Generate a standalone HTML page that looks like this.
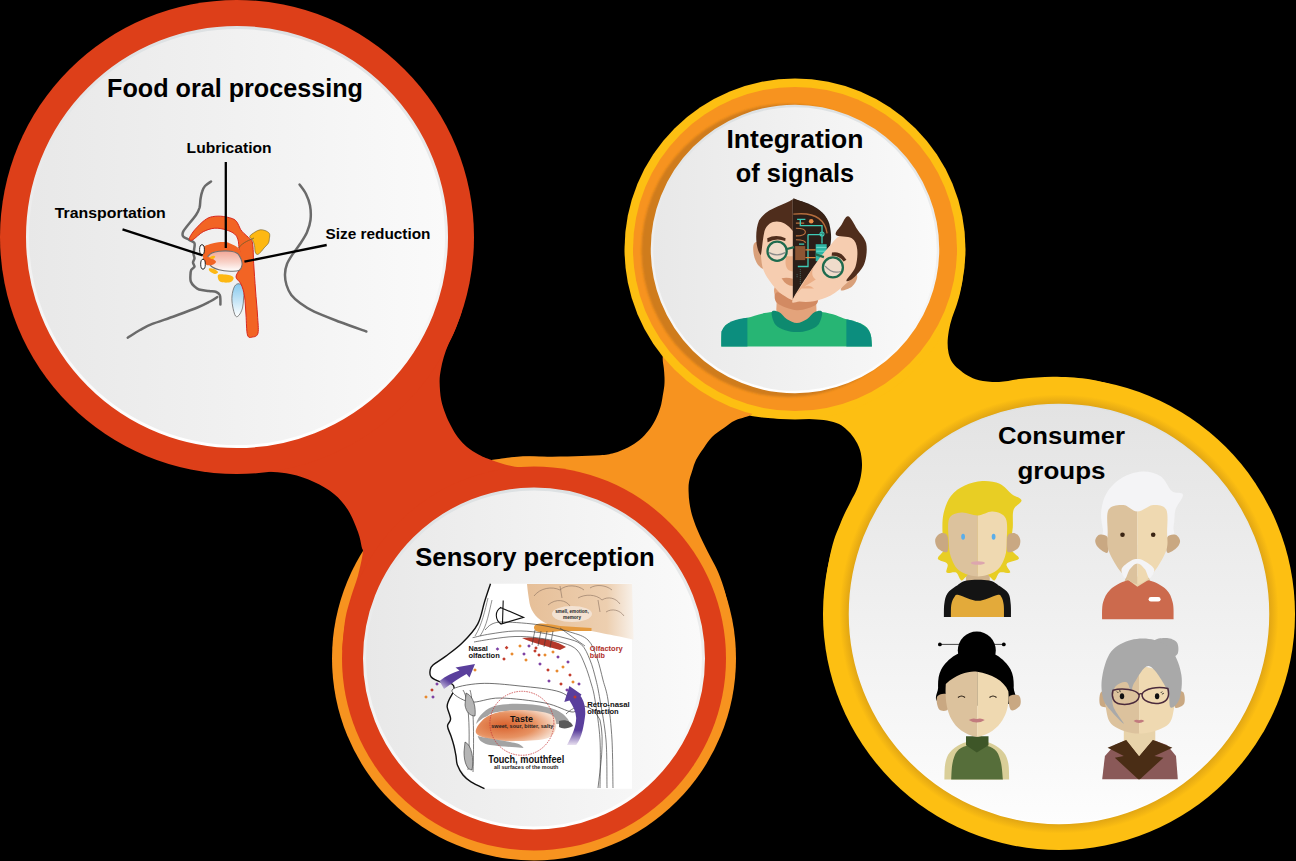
<!DOCTYPE html>
<html><head><meta charset="utf-8"><style>html,body{margin:0;padding:0;background:#000;width:1296px;height:861px;overflow:hidden}</style></head>
<body><svg width="1296" height="861" viewBox="0 0 1296 861" style="display:block">
<defs>
  <linearGradient id="disc" x1="0" y1="0" x2="1" y2="0">
    <stop offset="0" stop-color="#E8E8E8"/><stop offset="1" stop-color="#FAFAFA"/>
  </linearGradient>
  <linearGradient id="discv" x1="0" y1="0" x2="0" y2="1">
    <stop offset="0" stop-color="#E3E3E3"/><stop offset="1" stop-color="#FDFDFD"/>
  </linearGradient>
  <linearGradient id="rim" x1="0" y1="0" x2="0" y2="1">
    <stop offset="0" stop-color="#DDE1E3"/><stop offset="0.5" stop-color="#EFEFEF"/><stop offset="1" stop-color="#FFFFFF"/>
  </linearGradient>
  <radialGradient id="gold" cx="0.5" cy="0.5" r="0.5">
    <stop offset="0.885" stop-color="#DDA214"/><stop offset="0.93" stop-color="#FDBF12"/><stop offset="1" stop-color="#FDBF12"/>
  </radialGradient>
  <filter id="blur2" x="-10%" y="-10%" width="120%" height="120%"><feGaussianBlur stdDeviation="1.3"/></filter>
  <clipPath id="c2clip"><circle cx="795" cy="249" r="162"/></clipPath>
</defs>
<rect width="1296" height="861" fill="#000"/>
<circle cx="534" cy="658.5" r="202" fill="#F7931F"/>
<path d="M534,600 L491.5,460 C496.2,459.4 511.1,457.0 520.0,456.5 C528.9,456.0 535.8,456.9 545.0,456.8 C554.2,456.8 565.8,456.4 575.0,456.2 C584.2,455.9 593.5,455.8 600.0,455.3 C606.5,454.8 609.3,454.3 614.0,453.0 C618.7,451.7 623.8,449.7 628.0,447.5 C632.2,445.3 636.0,442.9 639.5,440.0 C643.0,437.1 646.3,433.4 649.0,430.0 C651.7,426.6 653.8,423.1 655.7,419.3 C657.6,415.5 659.3,410.9 660.5,407.0 C661.7,403.1 662.1,399.5 662.7,396.0 C663.3,392.5 664.0,389.1 664.3,386.0 C664.6,382.9 664.6,380.5 664.5,377.5 C664.4,374.5 664.1,371.1 663.8,368.0 C663.5,364.9 662.7,362.0 662.7,359.0 C662.7,356.0 663.8,351.5 664.0,350.0 L760,260 L755,412 C754.1,412.6 752.7,414.4 749.4,415.8 C746.1,417.2 739.2,418.5 735.0,420.5 C730.8,422.5 727.7,425.2 723.9,428.0 C720.1,430.8 715.4,433.6 712.0,437.0 C708.6,440.4 706.1,444.7 703.4,448.5 C700.7,452.3 697.9,456.2 696.0,460.0 C694.1,463.8 693.2,467.8 692.0,471.5 C690.8,475.2 689.6,478.6 689.0,482.0 C688.4,485.4 688.5,488.5 688.6,492.0 C688.7,495.5 688.9,499.2 689.5,503.0 C690.1,506.8 690.8,510.7 692.0,515.0 C693.2,519.3 695.1,524.3 697.0,529.0 C698.9,533.7 701.1,538.2 703.4,543.0 C705.7,547.8 708.4,552.9 711.0,558.0 C713.6,563.1 716.5,568.0 718.8,573.7 C721.1,579.4 722.9,584.3 725.0,592.0 C727.1,599.7 730.4,615.3 731.5,620.0 Z" fill="#F7931F"/>
<path d="M850,300 L964.5,240 C964.5,243.7 964.7,254.3 964.2,262.0 C963.7,269.7 962.7,279.0 961.5,286.0 C960.3,293.0 958.6,298.7 957.0,304.0 C955.4,309.3 953.4,313.5 952.0,318.0 C950.6,322.5 949.5,326.8 948.8,331.0 C948.1,335.2 947.6,339.3 947.6,343.0 C947.6,346.7 947.9,350.1 948.6,353.3 C949.3,356.5 950.4,359.4 952.0,362.0 C953.6,364.6 955.6,366.5 958.3,368.8 C961.0,371.1 964.5,373.9 968.0,375.8 C971.5,377.7 973.8,379.2 979.0,380.2 C984.2,381.2 991.8,382.2 999.0,382.0 C1006.2,381.8 1013.0,379.7 1022.0,378.8 C1031.0,377.9 1042.3,376.8 1053.0,376.8 C1063.7,376.8 1076.5,377.6 1086.0,378.8 C1095.5,380.0 1106.0,383.1 1110.0,384.0 L1059,500 L823.5,620 C823.7,616.3 824.1,604.8 824.5,598.0 C824.9,591.2 825.2,585.7 826.0,579.0 C826.8,572.3 828.2,564.5 829.5,558.0 C830.8,551.5 832.4,545.2 834.0,540.0 C835.6,534.8 837.3,531.2 839.0,527.0 C840.7,522.8 842.0,519.3 844.0,515.0 C846.0,510.7 848.8,505.3 851.0,501.0 C853.2,496.7 855.4,493.0 857.0,489.0 C858.6,485.0 859.9,481.2 860.7,477.0 C861.5,472.8 862.1,468.5 862.0,464.0 C861.9,459.5 861.3,454.3 860.0,450.0 C858.7,445.7 856.2,441.3 854.0,438.0 C851.8,434.7 849.5,432.3 847.0,430.0 C844.5,427.7 842.3,425.6 839.0,424.0 C835.7,422.4 831.3,421.3 827.0,420.5 C822.7,419.7 818.3,419.5 813.0,419.2 C807.7,418.9 801.3,418.9 795.0,418.8 C788.7,418.7 780.5,418.6 775.0,418.4 C769.5,418.2 766.3,417.9 762.0,417.5 C757.7,417.1 751.5,416.1 749.4,415.8 L800,380 Z" fill="#FDBF12"/>
<path d="M300,300 L462,311 C460.9,314.2 457.4,324.5 455.1,330.0 C452.9,335.5 450.4,339.5 448.5,344.0 C446.6,348.5 445.1,352.7 443.8,357.0 C442.5,361.3 441.5,365.8 440.8,370.0 C440.1,374.2 439.5,377.0 439.6,382.0 C439.7,387.0 440.2,394.7 441.2,400.0 C442.2,405.3 443.9,409.7 445.5,414.0 C447.1,418.3 448.9,422.1 451.0,426.0 C453.1,429.9 455.3,434.0 458.0,437.5 C460.7,441.0 463.6,444.2 467.0,447.0 C470.4,449.8 474.4,452.3 478.5,454.5 C482.6,456.7 485.4,457.9 491.5,460.0 C497.6,462.1 506.9,465.6 515.0,466.8 C523.1,468.0 535.8,467.0 540.0,467.0 L534,600 L342.2,650 C342.7,644.8 343.8,627.8 345.3,619.0 C346.8,610.2 348.9,604.2 351.0,597.0 C353.1,589.8 355.9,583.3 357.9,576.0 C359.9,568.7 362.2,557.8 362.8,553.0 C363.4,548.2 362.5,550.5 361.7,547.0 C360.9,543.5 360.3,538.2 358.0,532.0 C355.7,525.8 352.0,516.3 348.0,510.0 C344.0,503.7 339.7,498.7 334.0,494.0 C328.3,489.3 321.3,485.3 314.0,482.0 C306.7,478.7 299.8,475.8 290.0,474.0 C280.2,472.2 266.7,471.2 255.0,471.0 C243.3,470.8 225.8,472.4 220.0,472.7 L237,300 Z" fill="#DD3F19"/>
<!-- circle 1 -->
<circle cx="237" cy="237" r="237" fill="#DD3F19"/>
<circle cx="237" cy="237" r="209.5" fill="url(#disc)" stroke="url(#rim)" stroke-width="3"/>
<!-- circle 2 -->
<circle cx="795" cy="249" r="170.5" fill="#FDBF12"/>
<circle cx="795" cy="249" r="162" fill="#F7931F"/>
<g clip-path="url(#c2clip)"><circle cx="788" cy="250.5" r="146.5" fill="#CF7C1C" filter="url(#blur2)"/></g>
<circle cx="795" cy="249" r="143" fill="url(#disc)" stroke="url(#rim)" stroke-width="2.5"/>
<!-- circle 3 -->
<circle cx="534" cy="658.5" r="192" fill="#DD3F19"/>
<circle cx="534" cy="658.5" r="169.5" fill="url(#disc)" stroke="url(#rim)" stroke-width="3"/>
<!-- circle 4 -->
<circle cx="1059" cy="614" r="236" fill="url(#gold)"/>
<circle cx="1059" cy="614" r="209.5" fill="url(#discv)" stroke="url(#rim)" stroke-width="1.5"/>
<g font-family='"Liberation Sans", sans-serif'>
<text x="235" y="96.8" font-size="25.3" font-weight="bold" fill="#000" text-anchor="middle" textLength="256" lengthAdjust="spacingAndGlyphs" >Food oral processing</text>
<text x="795" y="148" font-size="25.5" font-weight="bold" fill="#000" text-anchor="middle" textLength="137" lengthAdjust="spacingAndGlyphs" >Integration</text>
<text x="795" y="181.6" font-size="25.5" font-weight="bold" fill="#000" text-anchor="middle" textLength="118.5" lengthAdjust="spacingAndGlyphs" >of signals</text>
<text x="535" y="565.5" font-size="26.3" font-weight="bold" fill="#000" text-anchor="middle" textLength="239.5" lengthAdjust="spacingAndGlyphs" >Sensory perception</text>
<text x="1061.5" y="444" font-size="24.8" font-weight="bold" fill="#000" text-anchor="middle" textLength="127" lengthAdjust="spacingAndGlyphs" >Consumer</text>
<text x="1061.5" y="479.3" font-size="24.8" font-weight="bold" fill="#000" text-anchor="middle" textLength="88" lengthAdjust="spacingAndGlyphs" >groups</text>
</g>
<g>
<defs>
<linearGradient id="pinkg" x1="0" y1="0" x2="0" y2="1"><stop offset="0" stop-color="#F2A696"/><stop offset="0.55" stop-color="#F8D2C8"/><stop offset="1" stop-color="#FFFFFF"/></linearGradient>
<linearGradient id="blueg" x1="0" y1="0" x2="0" y2="1"><stop offset="0" stop-color="#86C9EE"/><stop offset="1" stop-color="#FFFFFF"/></linearGradient>
</defs>
<path d="M211.0,181.5 C210.0,182.2 206.5,184.3 205.0,186.0 C203.5,187.7 202.9,189.3 202.2,191.5 C201.4,193.7 200.9,196.3 200.5,199.0 C200.1,201.7 200.3,204.8 199.6,207.5 C198.8,210.2 198.1,211.9 196.0,215.0 C193.9,218.1 189.2,223.5 187.0,226.3 C184.8,229.1 183.6,230.3 183.0,232.0 C182.4,233.7 182.2,235.2 183.2,236.5 C184.2,237.8 187.3,238.7 189.2,239.8 C191.1,240.9 193.6,241.5 194.4,243.0 C195.2,244.5 194.3,247.2 194.2,249.0 C194.0,250.8 193.4,252.4 193.5,254.0 C193.6,255.6 194.6,257.0 194.5,258.4 C194.4,259.8 193.0,261.1 193.0,262.5 C193.0,263.9 194.8,265.4 194.5,266.6 C194.2,267.9 191.9,268.4 191.2,270.0 C190.5,271.6 190.5,274.1 190.4,276.0 C190.3,277.9 190.2,279.8 190.8,281.5 C191.4,283.2 192.6,284.7 194.0,286.0 C195.4,287.3 196.5,288.7 199.0,289.5 C201.5,290.3 206.1,290.6 209.0,291.0 C211.9,291.4 214.5,291.3 216.3,292.0 C218.1,292.7 219.1,293.7 219.8,295.0 C220.5,296.3 220.3,298.4 220.4,300.0 C220.5,301.6 220.4,303.7 220.4,304.4" fill="none" stroke="#6A6A6A" stroke-width="2.5" stroke-linecap="round"/>
<path d="M127.7,337.7 C129.8,336.4 136.0,332.2 140.0,330.0 C144.0,327.8 145.9,326.5 151.7,324.2 C157.5,321.9 167.4,318.8 175.0,316.0 C182.6,313.2 191.7,309.9 197.5,307.5 C203.3,305.1 206.7,303.2 210.0,301.5 C213.3,299.8 216.1,297.8 217.3,297.0" fill="none" stroke="#6A6A6A" stroke-width="2.5" stroke-linecap="round"/>
<path d="M299.6,184.6 C300.7,186.2 304.3,190.5 306.0,194.0 C307.7,197.5 309.2,201.1 310.0,205.4 C310.8,209.7 311.0,215.5 310.5,220.0 C310.0,224.5 308.6,228.5 306.9,232.5 C305.1,236.5 302.3,240.5 300.0,244.0 C297.7,247.5 295.5,250.0 293.3,253.3 C291.1,256.6 288.4,260.5 287.0,264.0 C285.6,267.5 285.1,270.7 285.0,274.2 C284.9,277.7 285.4,281.5 286.5,285.0 C287.6,288.5 289.1,292.0 291.3,295.0 C293.6,298.0 296.2,300.2 300.0,303.0 C303.8,305.8 307.5,308.5 314.2,311.7 C320.9,314.9 331.3,318.7 340.0,322.0 C348.7,325.3 361.9,329.9 366.3,331.5" fill="none" stroke="#6A6A6A" stroke-width="2.5" stroke-linecap="round"/>
<path d="M234.6,286.3 C235.8,284.3 237.6,283.4 239.2,283.8 C240.8,284.2 243.2,286.2 243.9,288.6 C244.6,291.0 243.8,294.8 243.6,298.0 C243.4,301.2 243.3,305.1 242.5,308.0 C241.7,310.9 240.2,313.9 239.0,315.2 C237.8,316.5 236.6,317.5 235.5,316.0 C234.4,314.5 233.2,309.3 232.6,306.0 C232.0,302.7 231.7,299.3 232.0,296.0 C232.3,292.7 233.4,288.3 234.6,286.3Z" fill="url(#blueg)" stroke="#6A6A6A" stroke-width="0.8"/>
<path d="M189.3,238.7 C189.3,237.4 191.7,233.9 193.0,232.0 C194.3,230.1 195.7,228.8 197.4,227.0 C199.1,225.2 200.9,223.1 203.0,221.5 C205.1,219.9 207.2,218.1 210.2,217.2 C213.1,216.3 217.0,216.0 220.7,216.2 C224.4,216.4 229.6,217.6 232.3,218.6 C235.1,219.6 235.8,220.6 237.2,222.4 C238.5,224.2 239.3,227.3 240.4,229.2 C241.5,231.0 242.7,232.1 244.0,233.5 C245.3,234.9 247.1,235.9 248.5,237.5 C249.9,239.1 251.6,238.6 252.5,243.0 C253.4,247.4 253.2,255.9 253.7,263.8 C254.2,271.6 254.9,281.5 255.5,290.0 C256.1,298.5 257.1,307.8 257.5,315.0 C257.9,322.2 258.8,329.3 258.0,333.0 C257.2,336.7 254.4,336.7 252.7,337.0 C250.9,337.3 248.6,338.7 247.5,335.0 C246.4,331.3 246.5,321.5 246.0,315.0 C245.5,308.5 245.3,301.2 244.5,296.0 C243.7,290.8 242.4,287.2 241.0,284.0 C239.6,280.8 236.2,279.7 236.0,277.0 C235.8,274.3 239.2,271.2 240.0,268.0 C240.8,264.8 241.1,261.2 241.0,258.0 C240.9,254.8 239.7,252.0 239.2,249.0 C238.7,246.0 238.8,242.3 238.0,239.8 C237.2,237.3 236.5,235.6 234.6,234.0 C232.7,232.4 229.8,231.0 226.5,230.0 C223.2,229.0 218.7,227.9 214.8,228.2 C210.9,228.5 206.9,229.8 203.2,231.7 C199.5,233.6 195.1,238.6 192.8,239.8 C190.5,241.0 189.3,240.0 189.3,238.7Z" fill="#F26424" stroke="#D8281E" stroke-width="1"/>
<path d="M201.5,250.0 C201.0,247.5 201.8,247.8 203.2,246.8 C204.6,245.8 207.7,244.7 210.2,243.9 C212.7,243.1 215.6,242.5 218.3,242.2 C221.0,241.9 224.2,241.8 226.5,242.2 C228.8,242.6 230.2,243.4 232.3,244.5 C234.4,245.6 237.6,246.8 239.2,249.0 C240.8,251.2 242.2,255.2 242.0,258.0 C241.8,260.8 241.7,264.7 238.0,266.0 C234.3,267.3 225.3,266.7 220.0,266.0 C214.7,265.3 209.1,264.7 206.0,262.0 C202.9,259.3 202.0,252.5 201.5,250.0Z" fill="#F26424"/>
<path d="M207.5,257.5 C207.8,255.4 210.1,254.1 212.0,253.0 C213.9,251.9 215.8,251.5 219.0,251.2 C222.2,250.9 227.9,250.8 231.0,251.2 C234.1,251.6 235.8,252.2 237.5,253.5 C239.2,254.8 240.2,257.1 241.0,259.0 C241.8,260.9 242.3,263.1 242.0,265.0 C241.7,266.9 241.0,269.5 239.0,270.5 C237.0,271.5 233.3,271.3 230.0,271.2 C226.7,271.1 222.2,270.6 219.0,269.7 C215.8,268.8 212.4,267.5 210.5,265.5 C208.6,263.5 207.2,259.6 207.5,257.5Z" fill="url(#pinkg)" stroke="#707070" stroke-width="1.1"/>
<path d="M203.0,258.0 C203.3,256.8 206.3,256.8 208.0,257.0 C209.7,257.2 211.7,258.2 213.0,259.0 C214.3,259.8 216.2,261.0 216.0,262.0 C215.8,263.0 213.7,264.6 212.0,265.0 C210.3,265.4 207.5,265.7 206.0,264.5 C204.5,263.3 202.7,259.2 203.0,258.0Z" fill="#F26424"/>
<path d="M249.7,236.4 C250.1,235.1 253.3,233.1 255.0,232.0 C256.7,230.9 258.4,230.1 260.1,229.8 C261.8,229.6 263.4,229.9 265.0,230.5 C266.6,231.1 268.7,232.2 269.4,233.5 C270.1,234.8 269.6,236.9 269.4,238.5 C269.2,240.1 269.2,241.7 268.3,243.3 C267.4,244.9 265.2,246.6 264.0,248.0 C262.8,249.4 262.4,250.4 261.3,251.5 C260.2,252.6 258.5,254.4 257.5,254.5 C256.5,254.6 255.7,253.5 255.2,252.0 C254.7,250.5 254.9,247.6 254.5,245.6 C254.1,243.6 253.3,241.5 252.5,240.0 C251.7,238.5 249.3,237.7 249.7,236.4Z" fill="#FDB813" stroke="#6B5A2A" stroke-width="0.6"/>
<path d="M238.5,248 C243,242 250,240 254,238" fill="none" stroke="#6B5A2A" stroke-width="0.8"/>
<path d="M218.3,274.7 C219.3,273.9 222.1,274.3 224.0,274.4 C225.9,274.5 228.4,274.7 230.0,275.3 C231.6,275.9 233.3,276.8 233.6,277.8 C233.9,278.8 233.0,280.4 232.0,281.2 C231.0,282.0 229.3,282.5 227.5,282.6 C225.7,282.7 222.6,282.6 221.0,282.0 C219.4,281.4 218.6,280.2 218.2,279.0 C217.8,277.8 217.3,275.5 218.3,274.7Z" fill="#FDB813"/>
<path d="M209.0,268.4 C209.7,268.0 212.5,268.4 214.0,269.0 C215.5,269.6 217.8,271.2 218.0,272.0 C218.2,272.8 216.3,274.1 215.0,274.0 C213.7,273.9 211.0,272.4 210.0,271.5 C209.0,270.6 208.3,268.8 209.0,268.4Z" fill="#FDB813"/>
<path d="M209.5,257.5 C209.6,256.9 212.0,255.8 213.0,255.7 C214.0,255.6 215.4,256.2 215.3,256.8 C215.2,257.4 213.5,259.1 212.5,259.2 C211.5,259.3 209.4,258.1 209.5,257.5Z" fill="#FDB813"/>
<ellipse cx="202" cy="249.7" rx="2.4" ry="5" fill="#fff" stroke="#111" stroke-width="0.9"/>
<ellipse cx="203" cy="264.2" rx="2.3" ry="5" fill="#fff" stroke="#111" stroke-width="0.9"/>
<line x1="225.8" y1="162" x2="225.8" y2="248" stroke="#000" stroke-width="2.3"/>
<line x1="122.5" y1="229.4" x2="202.7" y2="255.4" stroke="#000" stroke-width="2.3"/>
<line x1="326.7" y1="245" x2="244.4" y2="261.7" stroke="#000" stroke-width="2.3"/>
<text x="229.1" y="153.2" font-family='"Liberation Sans", sans-serif' font-size="15.5" font-weight="bold" fill="#000" text-anchor="middle" textLength="85" lengthAdjust="spacingAndGlyphs" >Lubrication</text>
<text x="110.3" y="217.5" font-family='"Liberation Sans", sans-serif' font-size="15.5" font-weight="bold" fill="#000" text-anchor="middle" textLength="111" lengthAdjust="spacingAndGlyphs" >Transportation</text>
<text x="378" y="238.5" font-family='"Liberation Sans", sans-serif' font-size="15.5" font-weight="bold" fill="#000" text-anchor="middle" textLength="105" lengthAdjust="spacingAndGlyphs" >Size reduction</text>
</g><g>
<path d="M721.3,346.5 C721.4,344.4 721.1,337.2 721.8,333.6 C722.6,330.0 723.3,327.1 725.8,324.9 C728.3,322.8 733.0,321.6 736.6,320.4 C740.2,319.3 741.4,319.2 747.4,317.8 C753.4,316.3 760.3,313.0 772.6,312.0 C784.9,311.0 808.9,310.8 821.2,312.0 C833.5,313.2 840.1,317.4 846.4,319.2 C852.7,321.0 855.5,321.3 859.0,322.8 C862.4,324.2 865.1,325.7 867.1,327.8 C869.1,329.9 870.1,332.3 870.9,335.4 C871.7,338.5 871.8,344.7 871.9,346.5Z" fill="#27B574"/>
<path d="M721.3,346.5 L721.3,331.8 C725.8,321.0 736.6,319.2 747.4,317.8 L747.4,346.5Z" fill="#0C8E7E"/>
<path d="M846.4,319.2 C859.0,321.9 869.8,326.4 871.2,337.2 L871.9,346.5 L846.4,346.5Z" fill="#0C8E7E"/>
<path d="M777.1,285.0 C783.6,282.0 809.3,282.0 815.8,285.0 C822.3,288.0 816.2,298.2 816.2,303.0 C816.2,307.8 817.1,310.8 815.8,313.8 C814.5,316.8 811.7,319.1 808.6,321.0 C805.4,322.8 800.8,324.9 796.9,324.9 C793.0,324.9 788.5,322.8 785.2,321.0 C781.9,319.1 778.5,316.8 777.1,313.8 C775.7,310.8 776.6,307.8 776.6,303.0 C776.6,298.2 770.6,288.0 777.1,285.0Z" fill="#E3A37B"/>
<path d="M771.7,312.0 C772.3,309.9 776.3,310.8 778.9,312.0 C781.4,313.2 784.0,317.3 787.0,319.2 C790.0,321.0 793.6,323.1 796.9,323.1 C800.2,323.1 803.8,321.0 806.8,319.2 C809.8,317.3 812.3,313.2 814.9,312.0 C817.4,310.8 821.5,309.9 822.1,312.0 C822.7,314.1 820.7,321.5 818.5,324.6 C816.2,327.6 812.2,329.1 808.6,330.3 C805.0,331.6 800.8,332.1 796.9,332.1 C793.0,332.1 788.8,331.6 785.2,330.3 C781.6,329.1 777.5,327.6 775.3,324.6 C773.0,321.5 771.1,314.1 771.7,312.0Z" fill="#0E8A6F"/>
<path d="M760.9,243.6 C759.5,239.5 756.8,241.6 755.5,242.2 C754.2,242.8 753.3,244.6 753.2,247.2 C753.0,249.8 753.6,254.8 754.6,258.0 C755.6,261.1 757.6,264.6 759.1,266.1 C760.6,267.6 763.3,270.7 763.6,267.0 C763.9,263.2 762.2,247.7 760.9,243.6Z" fill="#D9A07A"/>
<path d="M762.2,227.4 C764.1,223.8 767.5,220.5 772.6,218.4 C777.7,216.3 789.4,201.3 792.8,214.8 C796.1,228.3 794.3,285.9 792.8,299.4 C791.2,312.9 786.8,298.2 783.4,295.8 C780.0,293.4 775.9,289.2 772.6,285.0 C769.3,280.8 765.5,275.7 763.6,270.6 C761.6,265.5 761.3,259.5 760.9,254.4 C760.4,249.3 760.7,244.5 760.9,240.0 C761.1,235.5 760.2,231.0 762.2,227.4Z" fill="#F6CDB0"/>
<path d="M777.1,292.2 C780.2,291.9 789.5,300.6 796.0,301.2 C802.4,301.8 812.5,295.2 815.8,295.8 C819.1,296.4 818.9,302.4 815.8,304.8 C812.6,307.2 803.3,310.5 796.9,310.2 C790.4,309.9 780.4,306.0 777.1,303.0 C773.8,300.0 773.9,292.5 777.1,292.2Z" fill="#D28A62"/>
<path d="M792.8,199.3 L792.8,231.0 C783.4,218.4 769.0,218.4 764.5,231.0 C762.2,241.8 762.2,249.0 760.9,255.3 C755.5,249.0 754.6,231.0 759.1,220.2 C767.2,207.6 783.4,205.8 792.8,199.3 Z" fill="#4F2D1C"/>
<path d="M767.2,238.2 Q776.2,233.7 785.6,238.2 L785.2,240.9 Q776.2,237.3 767.6,242.2Z" fill="#4F2D1C"/>
<path d="M786.1,256.2 Q783.4,270.6 792.8,271.5 L792.8,256.2Z" fill="#EBAE86"/>
<path d="M781.6,278.2 Q787.0,276.9 792.8,278.7 L792.8,285.9 Q786.1,285.9 781.6,278.2Z" fill="#D6936B"/>
<circle cx="777.1" cy="251.2" r="9.6" fill="#EFDCCB" stroke="#1E6B4E" stroke-width="2.3"/>
<path d="M769.0,252.6 Q777.1,257.1 785.2,252.6" fill="none" stroke="#8A8A8A" stroke-width="1.3"/>
<path d="M792.8,199.3 C808.6,202.2 824.8,209.4 829.3,223.8 C832.0,234.6 831.1,241.8 830.2,245.4 L792.8,299.4 Z" fill="#2B1E18"/>
<path d="M793.3,198.2 C804.2,202.7 823.3,207.8 827.8,221.8 L829.1,233.3 L825.9,233.3 C823.3,218.0 810.5,212.9 793.3,214.2 Z" fill="#3A2215"/>
<path d="M793.3,214.2 C810.5,212.2 824.6,216.7 827.1,233.3" fill="none" stroke="#B36C3C" stroke-width="1.3"/>
<circle cx="811.2" cy="221.2" r="2.3" fill="#E98A46"/>
<path d="M795.9,223.1 L804.2,223.1 M795.9,228.2 Q805.4,228.2 805.4,232.0 Q805.4,235.9 795.9,235.9 M795.9,239.7 Q805.4,239.7 805.4,242.9" fill="none" stroke="#C07440" stroke-width="1.1"/>
<path d="M797.1,219.3 L805.4,219.3 M800.3,219.3 L800.3,225.7 L822.0,225.7 L822.0,243.5 M808.0,234.6 L822.0,234.6 M808.0,234.6 L808.0,266.5 L797.8,266.5 M799.0,244.2 L804.2,244.2" fill="none" stroke="#3ECBB6" stroke-width="1.3"/>
<circle cx="822.0" cy="234.0" r="2" fill="none" stroke="#3ECBB6" stroke-width="1.1"/>
<rect x="795.2" y="246.1" width="10" height="14" fill="#8C5634"/>
<path d="M805.4,249.9 L815.7,249.9 M805.4,257.6 L815.7,257.6" stroke="#E0873F" stroke-width="1.2"/>
<rect x="815.7" y="244.2" width="11" height="17" fill="#2EB5A3"/>
<path d="M816.3,247.4 L826.5,247.4 M816.3,251.2 L826.5,251.2 M816.3,255.0 L826.5,255.0" stroke="#7FE6D6" stroke-width="0.8"/>
<path d="M800.3,269.1 L800.3,284.4 M797.1,274.2 L797.1,278.0" fill="none" stroke="#4E6A66" stroke-width="1" stroke-dasharray="1,1"/>
<path d="M848.2,272.4 C849.8,270.6 853.0,269.7 854.5,270.6 C856.0,271.5 857.6,275.1 857.2,277.8 C856.7,280.5 854.5,284.7 851.8,286.8 C849.1,288.9 842.2,291.3 841.0,290.4 C839.8,289.5 843.4,284.4 844.6,281.4 C845.8,278.4 846.5,274.2 848.2,272.4Z" fill="#D9A07A"/>
<path d="M792.8,299.4 C795.5,293.0 809.6,272.4 815.8,263.4 C822.0,254.4 826.0,250.0 830.2,245.4 C834.4,240.7 836.5,236.7 841.0,235.5 C845.5,234.3 854.2,235.0 857.2,238.2 C860.2,241.3 859.3,248.7 859.0,254.4 C858.7,260.1 857.8,267.3 855.4,272.4 C853.0,277.5 848.8,281.1 844.6,285.0 C840.4,288.9 835.3,293.1 830.2,295.8 C825.1,298.5 819.1,300.2 814.0,301.2 C808.9,302.2 803.1,301.9 799.6,301.6 C796.1,301.3 790.1,305.8 792.8,299.4Z" fill="#F6CDB0"/>
<path d="M792.8,299.4 L815.8,263.4 Q808.6,274.2 815.8,279.6 L801.4,288.6 Q812.2,288.6 814.0,288.6 Q805.0,279.6 792.8,299.4Z" fill="#EBAE86"/>
<path d="M836.0,235.0 C834.2,232.9 839.0,228.7 841.0,225.6 C843.0,222.5 845.5,215.6 848.2,216.2 C850.9,216.8 854.2,224.6 857.2,229.2 C860.2,233.8 865.0,237.9 866.2,243.6 C867.4,249.3 866.5,257.7 864.4,263.4 C862.3,269.1 856.6,274.9 853.6,277.8 C850.6,280.6 846.1,282.3 846.4,280.5 C846.7,278.7 853.6,272.2 855.4,267.0 C857.2,261.7 857.8,253.8 857.2,249.0 C856.6,244.2 855.3,240.5 851.8,238.2 C848.2,235.9 837.8,237.1 836.0,235.0Z" fill="#4F2D1C"/>
<path d="M832.0,252.6 Q841.0,250.8 846.4,259.8 L843.7,261.6 Q839.2,255.3 831.6,255.8Z" fill="#4F2D1C"/>
<circle cx="832.9" cy="267.4" r="10" fill="#EFDCCB" stroke="#1E6B4E" stroke-width="2.3"/>
<path d="M825.2,266.1 Q832.0,274.2 841.0,271.5" fill="none" stroke="#8A8A8A" stroke-width="1.3"/>
<path d="M815.8,254.4 L823.9,257.1" stroke="#1E6B4E" stroke-width="2.3"/>
<path d="M787.0,249.0 L794.2,247.2" stroke="#1E6B4E" stroke-width="2.3"/>
</g><g>
<defs>
<linearGradient id="braing" x1="0" y1="0" x2="1" y2="0"><stop offset="0" stop-color="#E6BF98"/><stop offset="0.75" stop-color="#EDCFB0"/><stop offset="1" stop-color="#F8F1EA"/></linearGradient>
<radialGradient id="tasteg" cx="0.35" cy="0.5" r="0.65"><stop offset="0" stop-color="#D9622E"/><stop offset="0.6" stop-color="#E79262"/><stop offset="1" stop-color="#F6DCCB"/></radialGradient>
<linearGradient id="arrg" x1="0" y1="0" x2="0" y2="1"><stop offset="0" stop-color="#5A3F9C"/><stop offset="0.75" stop-color="#5A3F9C"/><stop offset="1" stop-color="#E8E0F0"/></linearGradient>
<linearGradient id="arrg2" x1="1" y1="0" x2="0" y2="1"><stop offset="0" stop-color="#5A3F9C"/><stop offset="0.7" stop-color="#5A3F9C"/><stop offset="1" stop-color="#D8D0E8"/></linearGradient>
</defs>
<path d="M490.5,583.7 L632.0,583.7 L632.0,788.7 L484.5,788.7 L471.0,781.9 L457.4,764.9 L454.0,744.5 L447.2,725.8 L450.6,719.0 L447.2,705.5 L454.0,683.4 L440.4,681.9 L430.2,676.8 L430.2,668.3 L445.5,656.4 L462.4,642.8 L477.7,624.1 L484.5,602.0Z" fill="#FFFFFF"/>
<path d="M527.0,584.0 L632.0,584.0 L633.6,639.7 " fill="none"/><path d="M527,584 L632,584 L633.6,639.7 C628,638.5 624,637.5 619.5,636.6 C612,635 605,634 588,630.3 C575,628 560,628 547.4,624 C538,620 531,612 529.5,603 C528.5,596 527.5,590 527,584Z" fill="url(#braing)"/>
<path d="M534,596 C540,588 552,586 560,590 C566,584 578,585 584,590 M548,605 C556,598 566,600 570,606 M578,598 C585,594 596,594 602,600 C608,596 616,598 620,604 M590,588 C596,584 606,585 612,590 M606,612 C612,608 620,610 624,616 M560,586 L562,598 M598,600 L600,612" fill="none" stroke="#8A7060" stroke-width="0.6"/>
<ellipse cx="572" cy="614" rx="20" ry="8" fill="#F3E2D2"/>
<text x="572" y="613" font-family='"Liberation Sans", sans-serif' font-size="4.6" font-weight="bold" text-anchor="middle" fill="#222">smell, emotion,</text>
<text x="572" y="618.5" font-family='"Liberation Sans", sans-serif' font-size="4.6" font-weight="bold" text-anchor="middle" fill="#222">memory</text>
<path d="M534,628 C534,622 545,623 560,626 L591.5,628 L591.5,631 L560,631 C548,633 535,634 534,628Z" fill="#E59A3E"/>
<path d="M522,638 C535,636 555,640 566,647 L560,650 C545,646 530,642 522,638Z" fill="#B4382A"/>
<path d="M535,630 L532,645 M541,631 L538,646 M547,631 L544,647 M553,631 L550,648 M560,628 L585,646" fill="none" stroke="#333" stroke-width="0.6"/>
<path d="M472.6,637.7 C475.5,637.1 482.9,635.1 490.0,634.0 C497.1,632.9 506.9,631.2 515.0,631.0 C523.1,630.8 530.5,631.3 538.8,632.5 C547.1,633.7 557.9,636.0 565.0,638.0 C572.1,640.0 577.1,640.8 581.3,644.5 C585.5,648.2 587.5,654.1 590.0,660.0 C592.5,665.9 594.3,673.3 596.0,680.0 C597.7,686.7 598.3,690.0 600.0,700.0 C601.7,710.0 604.8,725.3 606.0,740.0 C607.2,754.7 606.8,780.0 607.0,788.0" fill="none" stroke="#444" stroke-width="0.7"/>
<path d="M474.0,642.0 C477.0,641.5 485.2,639.9 492.0,639.0 C498.8,638.1 507.2,636.7 515.0,636.5 C522.8,636.3 530.8,636.9 538.8,638.0 C546.8,639.1 556.6,641.0 563.0,643.0 C569.4,645.0 573.3,646.3 577.0,650.0 C580.7,653.7 582.7,659.5 585.0,665.0 C587.3,670.5 589.3,677.2 591.0,683.0 C592.7,688.8 593.5,690.5 595.0,700.0 C596.5,709.5 599.2,725.3 600.0,740.0 C600.8,754.7 600.0,780.0 600.0,788.0" fill="none" stroke="#444" stroke-width="0.7"/>
<path d="M485.0,630.0 C486.2,629.0 488.7,625.3 492.0,624.0 C495.3,622.7 497.0,621.8 505.0,622.0 C513.0,622.2 529.2,623.3 540.0,625.0 C550.8,626.7 562.0,629.5 570.0,632.0 C578.0,634.5 583.5,635.7 588.0,640.0 C592.5,644.3 594.5,651.3 597.0,658.0 C599.5,664.7 601.2,673.0 603.0,680.0 C604.8,687.0 606.5,690.0 608.0,700.0 C609.5,710.0 611.2,725.3 612.0,740.0 C612.8,754.7 612.8,780.0 613.0,788.0" fill="none" stroke="#444" stroke-width="0.7"/>
<path d="M488,598 C485,610 482,625 475,636 M492,600 C489,612 487,626 480,636" fill="none" stroke="#444" stroke-width="0.6"/>
<path d="M499.8,607.2 L523.6,617.4 L500.6,624.1 M503.2,600.4 L502.5,623 M501,607.5 C494.5,611 495,620 501,624" fill="none" stroke="#111" stroke-width="1.1"/>
<path d="M490.5,583.7 C489.5,586.8 486.6,595.3 484.5,602.0 C482.4,608.7 481.4,617.3 477.7,624.1 C474.0,630.9 467.8,637.4 462.4,642.8 C457.0,648.2 450.4,652.7 445.5,656.4 C440.6,660.1 435.6,662.7 433.0,665.0 C430.4,667.3 430.5,668.0 430.2,670.0 C429.9,672.0 429.3,674.8 431.0,676.8 C432.7,678.8 436.9,680.7 440.4,681.9 C443.9,683.1 449.7,682.6 452.0,684.0 C454.3,685.4 454.5,687.3 454.0,690.0 C453.5,692.7 450.1,697.2 449.0,700.0 C447.9,702.8 446.9,703.8 447.2,707.0 C447.5,710.2 450.6,715.8 450.6,719.0 C450.7,722.2 447.4,723.2 447.5,726.0 C447.6,728.8 449.9,732.7 451.0,736.0 C452.1,739.3 453.2,742.7 454.0,746.0 C454.8,749.3 455.4,752.8 456.0,756.0 C456.6,759.2 456.2,761.8 457.4,765.0 C458.6,768.2 460.7,772.2 463.0,775.0 C465.3,777.8 467.4,779.6 471.0,781.9 C474.6,784.2 482.2,787.6 484.5,788.7" fill="none" stroke="#111" stroke-width="1.4"/>
<path d="M452.0,690.0 C453.7,686.9 468.7,684.2 480.0,683.5 C491.3,682.8 506.7,684.6 520.0,686.0 C533.3,687.4 550.8,688.8 560.0,692.0 C569.2,695.2 573.0,701.7 575.0,705.0 C577.0,708.3 577.0,712.3 572.0,712.0 C567.0,711.7 557.0,705.3 545.0,703.0 C533.0,700.7 512.5,698.2 500.0,698.0 C487.5,697.8 478.0,703.3 470.0,702.0 C462.0,700.7 450.3,693.1 452.0,690.0Z" fill="#FFFFFF" stroke="#333" stroke-width="0.7"/>
<path d="M476,724 C478,716 486,708 496.4,705.5 C510,703 530,703 547.3,707.2 C556,709 563,713 566,717 C569,720 570,723 569.4,725 C562,725 558,724 555.8,724.1 C550,719 545,715 538.8,714 C530,711 520,710 513.4,710.6 C500,711 492,712 487.9,715.7 C482,718 479,721 476,724Z" fill="#A3A3A3"/><path d="M559,721 C565,719 571,721 573,726 C568,729 562,729 559,727Z" fill="#5A5A5A"/>
<path d="M476.0,733.0 C474.3,729.3 480.2,721.7 485.0,718.0 C489.8,714.3 497.5,712.2 505.0,711.0 C512.5,709.8 522.2,709.8 530.0,710.5 C537.8,711.2 547.7,712.2 552.0,715.0 C556.3,717.8 556.7,723.2 556.0,727.0 C555.3,730.8 554.0,735.7 548.0,738.0 C542.0,740.3 528.8,740.7 520.0,741.0 C511.2,741.3 502.3,741.3 495.0,740.0 C487.7,738.7 477.7,736.7 476.0,733.0Z" fill="url(#tasteg)"/>
<path d="M477.7,736 C485,738 496,739.4 510,742 C516,743 521,744 523.6,747.9 C512,747 500,746.5 490,745 C483,743.5 479,741 477.7,736Z" fill="#A3A3A3"/>
<path d="M463,690 C470,700 470,740 468,770 M470,690 C474,702 474,745 473,772" fill="none" stroke="#444" stroke-width="0.7"/>
<path d="M466,693 C474,696 476,708 475,716 C470,716 466,712 465,705 Z M465,742 C472,745 474,760 472,770 C467,770 464,762 464,752 Z" fill="#B5B5B5" stroke="#333" stroke-width="0.6"/>
<path d="M566,714 C575,705 590,700 600,720 C605,740 600,770 598,788" fill="none" stroke="#444" stroke-width="0.7"/>
<circle cx="521.9" cy="723.3" r="32" fill="none" stroke="#C8393A" stroke-width="0.8" stroke-dasharray="1.5,1"/>
<path d="M439.5,681 C446,676 452,673 459.5,670.5 L455.5,667.5 L475,664 L469.5,677.5 L466.5,674 C459,678 452,683 444,689 Z" fill="url(#arrg2)"/>
<path d="M576.2,745 C582,738 584,725 585.3,714 C585.5,706 583.5,700 580.5,696 L581.5,694.5 L569.4,686 L564.3,702 L569.5,700.5 C573,706 576,712 576.2,718 C576,726 573,734 567,745 Z" fill="url(#arrg)"/>
<rect x="496.2" y="647.7" width="2.6" height="2.6" fill="#7C3FA3" transform="rotate(45 497.5 649.0)"/><rect x="505.3" y="646.4" width="2.6" height="2.6" fill="#C23A2A" transform="rotate(45 506.6 647.7)"/><rect x="518.7" y="644.7" width="2.6" height="2.6" fill="#E8892C" transform="rotate(45 520.0 646.0)"/><rect x="527.7" y="644.7" width="2.6" height="2.6" fill="#7C3FA3" transform="rotate(45 529.0 646.0)"/><rect x="534.7" y="646.7" width="2.6" height="2.6" fill="#C23A2A" transform="rotate(45 536.0 648.0)"/><rect x="510.7" y="652.7" width="2.6" height="2.6" fill="#E8892C" transform="rotate(45 512.0 654.0)"/><rect x="522.7" y="652.7" width="2.6" height="2.6" fill="#7C3FA3" transform="rotate(45 524.0 654.0)"/><rect x="533.7" y="649.7" width="2.6" height="2.6" fill="#C23A2A" transform="rotate(45 535.0 651.0)"/><rect x="543.7" y="653.7" width="2.6" height="2.6" fill="#E8892C" transform="rotate(45 545.0 655.0)"/><rect x="556.7" y="655.7" width="2.6" height="2.6" fill="#7C3FA3" transform="rotate(45 558.0 657.0)"/><rect x="502.7" y="657.7" width="2.6" height="2.6" fill="#C23A2A" transform="rotate(45 504.0 659.0)"/><rect x="524.7" y="658.7" width="2.6" height="2.6" fill="#E8892C" transform="rotate(45 526.0 660.0)"/><rect x="538.7" y="662.7" width="2.6" height="2.6" fill="#7C3FA3" transform="rotate(45 540.0 664.0)"/><rect x="546.7" y="668.7" width="2.6" height="2.6" fill="#C23A2A" transform="rotate(45 548.0 670.0)"/><rect x="561.7" y="665.7" width="2.6" height="2.6" fill="#E8892C" transform="rotate(45 563.0 667.0)"/><rect x="566.7" y="660.7" width="2.6" height="2.6" fill="#7C3FA3" transform="rotate(45 568.0 662.0)"/><rect x="568.7" y="673.7" width="2.6" height="2.6" fill="#C23A2A" transform="rotate(45 570.0 675.0)"/><rect x="555.7" y="669.7" width="2.6" height="2.6" fill="#E8892C" transform="rotate(45 557.0 671.0)"/><rect x="547.7" y="679.7" width="2.6" height="2.6" fill="#7C3FA3" transform="rotate(45 549.0 681.0)"/><rect x="559.7" y="682.7" width="2.6" height="2.6" fill="#C23A2A" transform="rotate(45 561.0 684.0)"/><rect x="571.7" y="680.7" width="2.6" height="2.6" fill="#E8892C" transform="rotate(45 573.0 682.0)"/><rect x="565.7" y="688.7" width="2.6" height="2.6" fill="#7C3FA3" transform="rotate(45 567.0 690.0)"/><rect x="573.7" y="695.7" width="2.6" height="2.6" fill="#C23A2A" transform="rotate(45 575.0 697.0)"/><rect x="473.7" y="668.7" width="2.6" height="2.6" fill="#E8892C" transform="rotate(45 475.0 670.0)"/><rect x="435.7" y="682.7" width="2.6" height="2.6" fill="#7C3FA3" transform="rotate(45 437.0 684.0)"/><rect x="430.7" y="688.7" width="2.6" height="2.6" fill="#C23A2A" transform="rotate(45 432.0 690.0)"/><rect x="424.7" y="695.7" width="2.6" height="2.6" fill="#E8892C" transform="rotate(45 426.0 697.0)"/><rect x="431.7" y="695.7" width="2.6" height="2.6" fill="#7C3FA3" transform="rotate(45 433.0 697.0)"/><rect x="537.7" y="653.7" width="2.6" height="2.6" fill="#C23A2A" transform="rotate(45 539.0 655.0)"/><rect x="551.7" y="650.7" width="2.6" height="2.6" fill="#E8892C" transform="rotate(45 553.0 652.0)"/><rect x="577.7" y="682.7" width="2.6" height="2.6" fill="#7C3FA3" transform="rotate(45 579.0 684.0)"/>
<text x="468.4" y="650.6" font-family='"Liberation Sans", sans-serif' font-size="7.6" font-weight="bold" text-anchor="start" fill="#111" textLength="19.5" lengthAdjust="spacingAndGlyphs">Nasal</text>
<text x="468.4" y="658.4" font-family='"Liberation Sans", sans-serif' font-size="7.6" font-weight="bold" text-anchor="start" fill="#111" textLength="31.4" lengthAdjust="spacingAndGlyphs">olfaction</text>
<text x="589.8" y="650.6" font-family='"Liberation Sans", sans-serif' font-size="7.6" font-weight="bold" text-anchor="start" fill="#B0302A" textLength="33" lengthAdjust="spacingAndGlyphs">Olfactory</text>
<text x="589.8" y="658.4" font-family='"Liberation Sans", sans-serif' font-size="7.6" font-weight="bold" text-anchor="start" fill="#B0302A" textLength="15.2" lengthAdjust="spacingAndGlyphs">bulb</text>
<text x="587.2" y="707.2" font-family='"Liberation Sans", sans-serif' font-size="7.6" font-weight="bold" text-anchor="start" fill="#111" textLength="42.5" lengthAdjust="spacingAndGlyphs">Retro-nasal</text>
<text x="587.2" y="714.4" font-family='"Liberation Sans", sans-serif' font-size="7.6" font-weight="bold" text-anchor="start" fill="#111" textLength="31.4" lengthAdjust="spacingAndGlyphs">olfaction</text>
<text x="521.5" y="722.3" font-family='"Liberation Sans", sans-serif' font-size="9.5" font-weight="bold" text-anchor="middle" fill="#111" textLength="23" lengthAdjust="spacingAndGlyphs">Taste</text>
<text x="522.3" y="728.4" font-family='"Liberation Sans", sans-serif' font-size="5.2" font-weight="bold" text-anchor="middle" fill="#222" textLength="62" lengthAdjust="spacingAndGlyphs">sweet, sour, bitter, salty</text>
<text x="526.2" y="763" font-family='"Liberation Sans", sans-serif' font-size="10" font-weight="bold" text-anchor="middle" fill="#111" textLength="76" lengthAdjust="spacingAndGlyphs">Touch, mouthfeel</text>
<text x="526.2" y="769" font-family='"Liberation Sans", sans-serif' font-size="5.2" font-weight="bold" text-anchor="middle" fill="#222" textLength="64.5" lengthAdjust="spacingAndGlyphs">all surfaces of the mouth</text>
</g><g>
<path d="M982.3,481.1 C976.5,481.4 970.1,483.0 964.8,485.5 C959.6,487.9 954.4,491.3 950.9,495.9 C947.4,500.6 945.0,507.2 943.6,513.3 C942.2,519.4 942.3,526.7 942.5,532.5 C942.7,538.3 945.6,543.8 944.8,548.2 C944.0,552.5 937.4,556.0 937.8,558.6 C938.3,561.2 946.0,561.5 947.4,563.9 C948.9,566.2 945.1,571.1 946.6,572.6 C948.0,574.0 953.7,571.3 956.1,572.6 C958.6,573.9 959.3,579.8 961.4,580.4 C963.4,581.0 964.0,576.8 968.3,576.0 C972.7,575.3 983.1,575.3 987.5,576.0 C991.8,576.8 992.4,581.0 994.5,580.4 C996.5,579.8 997.1,573.9 999.7,572.6 C1002.3,571.3 1009.0,574.0 1010.1,572.6 C1011.3,571.1 1005.2,566.2 1006.7,563.9 C1008.1,561.5 1018.1,561.2 1018.9,558.6 C1019.6,556.0 1012.0,553.4 1011.0,548.2 C1010.0,542.9 1012.3,533.7 1012.8,527.3 C1013.2,520.9 1012.2,514.3 1013.6,509.8 C1015.1,505.3 1021.8,502.9 1021.5,500.3 C1021.2,497.6 1015.5,496.9 1011.9,494.2 C1008.3,491.4 1004.6,485.9 999.7,483.7 C994.8,481.5 988.1,480.8 982.3,481.1Z" fill="#E8CE24"/>
<path d="M947.4,536.0 C946.3,532.9 942.5,532.8 940.5,533.4 C938.4,533.9 935.7,537.0 935.2,539.5 C934.8,541.9 935.8,546.1 937.8,548.2 C939.9,550.2 945.8,553.7 947.4,551.7 C949.0,549.6 948.6,539.0 947.4,536.0Z" fill="#C9A882"/><path d="M1007.5,536.0 C1008.8,532.9 1013.2,532.8 1015.4,533.4 C1017.5,533.9 1019.8,537.0 1020.2,539.5 C1020.7,541.9 1020.1,546.1 1018.0,548.2 C1015.9,550.2 1009.3,553.7 1007.5,551.7 C1005.8,549.6 1006.2,539.0 1007.5,536.0Z" fill="#C9A882"/>
<path d="M968.3,574.3 C971.5,572.9 984.3,572.9 987.5,574.3 C990.7,575.8 990.7,581.6 987.5,583.0 C984.3,584.5 971.5,584.5 968.3,583.0 C965.1,581.6 965.1,575.8 968.3,574.3Z" fill="#D0B38C"/>
<path d="M943.9,617.0 C944.0,614.8 943.7,607.8 944.3,603.9 C944.9,600.0 945.4,596.4 947.4,593.5 C949.4,590.5 952.9,588.3 956.1,586.1 C959.3,584.0 961.1,581.4 966.6,580.4 C972.1,579.4 983.7,579.4 989.2,580.4 C994.8,581.4 996.5,584.0 999.7,586.1 C1002.9,588.3 1006.6,590.5 1008.4,593.5 C1010.2,596.4 1010.2,600.0 1010.7,603.9 C1011.1,607.8 1011.0,614.8 1011.0,617.0Z" fill="#141414"/>
<path d="M950.9,617.0 C951.0,615.0 950.7,608.1 951.3,604.8 C951.8,601.5 953.1,598.6 954.4,597.0 C955.6,595.3 954.8,594.2 958.7,594.9 C962.7,595.5 971.5,600.8 977.9,600.8 C984.3,600.8 993.2,595.5 997.1,594.9 C1001.0,594.2 1000.3,595.3 1001.4,597.0 C1002.5,598.6 1003.3,601.5 1003.7,604.8 C1004.1,608.1 1004.0,615.0 1004.0,617.0Z" fill="#E3AA3A"/>
<clipPath id="fc1"><path d="M949.2,518.6 C951.3,513.8 956.6,513.0 961.4,512.5 C966.1,511.9 972.7,515.6 977.9,515.4 C983.1,515.3 988.1,511.1 992.7,511.6 C997.4,512.1 1003.5,513.6 1005.8,518.6 C1008.1,523.5 1006.8,534.8 1006.7,541.2 C1006.5,547.6 1006.7,551.9 1004.9,556.9 C1003.2,561.8 1000.7,567.6 996.2,570.8 C991.7,574.1 984.0,576.4 977.9,576.4 C971.8,576.4 964.1,574.1 959.6,570.8 C955.1,567.6 952.7,561.8 950.9,556.9 C949.1,551.9 949.1,547.6 948.8,541.2 C948.5,534.8 947.1,523.3 949.2,518.6Z"/></clipPath><g clip-path="url(#fc1)"><rect x="917.9" y="400" width="60" height="450" fill="#DCC29D"/><rect x="977.9" y="400" width="60" height="450" fill="#EFD9B1"/></g>
<ellipse cx="963.1" cy="536.8" rx="1.9" ry="3" fill="#5BAEEA"/>
<ellipse cx="993.6" cy="536.8" rx="1.9" ry="3" fill="#5BAEEA"/>
<ellipse cx="977.9" cy="563.0" rx="7" ry="1.8" fill="#DDA6AE"/>

<path d="M1142.0,471.5 C1135.5,471.8 1127.5,474.4 1121.6,478.0 C1115.7,481.6 1110.1,487.3 1106.7,492.9 C1103.3,498.5 1101.8,505.3 1101.2,511.5 C1100.5,517.7 1102.1,524.8 1103.0,530.1 C1103.9,535.3 1095.9,540.9 1106.7,543.1 C1117.6,545.2 1156.9,545.9 1168.1,543.1 C1179.2,540.3 1172.4,531.9 1173.6,526.3 C1174.9,520.8 1174.0,514.9 1175.5,509.6 C1177.1,504.3 1183.6,497.8 1182.9,494.7 C1182.3,491.6 1175.5,494.1 1171.8,491.0 C1168.1,487.9 1165.6,479.4 1160.6,476.2 C1155.7,472.9 1148.6,471.2 1142.0,471.5Z" fill="#F4F4F6"/>
<path d="M1107.7,537.5 C1106.3,534.5 1101.4,534.1 1099.3,534.7 C1097.2,535.3 1095.2,538.9 1095.2,541.2 C1095.2,543.5 1097.2,546.8 1099.3,548.6 C1101.4,550.5 1106.3,554.2 1107.7,552.4 C1109.1,550.5 1109.1,540.4 1107.7,537.5Z" fill="#C9A882"/><path d="M1167.1,537.5 C1168.5,534.5 1173.3,534.1 1175.5,534.7 C1177.7,535.3 1180.1,538.9 1180.1,541.2 C1180.2,543.5 1178.0,546.8 1175.9,548.6 C1173.7,550.5 1168.6,554.2 1167.1,552.4 C1165.7,550.5 1165.7,540.4 1167.1,537.5Z" fill="#C9A882"/>
<path d="M1127.2,576.5 C1129.2,576.2 1134.0,584.0 1137.4,584.0 C1140.8,584.0 1145.6,576.2 1147.6,576.5 C1149.6,576.8 1151.2,584.0 1149.5,585.8 C1147.8,587.7 1141.4,587.7 1137.4,587.7 C1133.4,587.7 1127.0,587.7 1125.3,585.8 C1123.6,584.0 1125.2,576.8 1127.2,576.5Z" fill="#D9BE98"/>
<path d="M1102.1,619.3 C1102.2,616.5 1101.6,607.5 1103.0,602.5 C1104.4,597.6 1106.4,593.2 1110.4,589.5 C1114.5,585.9 1120.7,582.1 1127.2,580.6 C1133.7,579.1 1143.0,579.1 1149.5,580.6 C1156.0,582.1 1162.3,585.9 1166.2,589.5 C1170.1,593.2 1171.5,597.6 1172.7,602.5 C1174.0,607.5 1173.5,616.5 1173.6,619.3Z" fill="#CC6A4D"/>
<path d="M1127.2,579.3 L1137.4,586.7 L1149.5,579.3 L1145.8,576.5 L1129.0,576.5Z" fill="#E8D2AC"/>
<clipPath id="fc2"><path d="M1108.6,509.6 C1111.2,505.1 1118.7,504.7 1123.5,505.0 C1128.3,505.3 1132.4,511.5 1137.4,511.5 C1142.4,511.5 1148.4,505.3 1153.2,505.0 C1158.0,504.7 1163.9,505.1 1166.2,509.6 C1168.5,514.1 1167.1,525.1 1167.1,531.9 C1167.1,538.7 1168.5,543.7 1166.2,550.5 C1163.9,557.3 1158.0,567.2 1153.2,572.8 C1148.4,578.4 1142.7,584.0 1137.4,584.0 C1132.1,584.0 1126.4,578.4 1121.6,572.8 C1116.8,567.2 1110.9,557.3 1108.6,550.5 C1106.3,543.7 1107.7,538.7 1107.7,531.9 C1107.7,525.1 1106.0,514.1 1108.6,509.6Z"/></clipPath><g clip-path="url(#fc2)"><rect x="1077.4" y="400" width="60" height="450" fill="#DCC29D"/><rect x="1137.4" y="400" width="60" height="450" fill="#EFD9B1"/></g>
<path d="M1121.6,569.1 C1122.5,566.1 1128.3,562.4 1130.9,560.7 C1133.5,559.0 1135.2,558.9 1137.4,558.9 C1139.6,558.9 1141.1,559.0 1143.9,560.7 C1146.7,562.4 1153.2,566.1 1154.1,569.1 C1155.1,572.0 1151.0,578.4 1149.5,578.4 C1147.9,578.4 1146.8,571.6 1144.8,569.1 C1142.8,566.6 1139.9,563.5 1137.4,563.5 C1134.9,563.5 1132.0,566.6 1130.0,569.1 C1127.9,571.6 1126.7,578.4 1125.3,578.4 C1123.9,578.4 1120.7,572.0 1121.6,569.1Z" fill="#F4F4F6"/>
<circle cx="1122.5" cy="534.7" r="2.3" fill="#3A2414"/>
<circle cx="1153.2" cy="534.7" r="2.3" fill="#3A2414"/>
<rect x="1148.6" y="597" width="12" height="4.6" rx="2.3" fill="#FFFFFF"/>

<path d="M944.4,779.4 C944.5,776.7 944.4,767.7 945.3,763.2 C946.2,758.7 947.2,755.5 949.8,752.4 C952.3,749.2 957.0,746.1 960.6,744.3 C964.2,742.5 967.8,742.0 971.4,741.6 C975.0,741.1 978.6,741.1 982.2,741.6 C985.8,742.0 989.4,742.5 993.0,744.3 C996.6,746.1 1001.2,749.2 1003.8,752.4 C1006.3,755.5 1007.4,758.7 1008.3,763.2 C1009.2,767.7 1009.0,776.7 1009.2,779.4Z" fill="#D9CE98"/>
<path d="M951.2,779.4 C951.4,776.7 951.5,767.8 952.5,763.2 C953.5,758.5 954.7,754.3 957.0,751.5 C959.2,748.6 962.7,747.1 966.0,746.1 C969.3,745.0 973.2,745.2 976.8,745.2 C980.4,745.2 984.3,745.0 987.6,746.1 C990.9,747.1 994.3,748.6 996.6,751.5 C998.8,754.3 1000.0,758.5 1001.1,763.2 C1002.1,767.8 1002.6,776.7 1002.9,779.4Z" fill="#566E3A"/>
<path d="M966.0,736.2 L988.5,736.2 L988.5,745.2 L976.8,752.4 L966.0,745.2Z" fill="#3E5628"/>
<line x1="939.9" y1="644.4" x2="1003.8" y2="644.4" stroke="#333" stroke-width="0.9"/>
<circle cx="939.9" cy="644.4" r="1.9" fill="#000"/><circle cx="1003.8" cy="644.4" r="1.9" fill="#000"/>
<circle cx="976.8" cy="650.5" r="19" fill="#000"/>
<path d="M975.9,649.8 C969.0,649.8 961.0,651.9 955.2,655.2 C949.4,658.5 944.0,664.2 941.2,669.6 C938.3,675.0 937.9,681.9 938.1,687.6 C938.3,693.3 930.7,701.1 942.6,703.8 C954.4,706.5 997.3,706.5 1009.2,703.8 C1021.0,701.1 1013.5,693.3 1013.7,687.6 C1013.9,681.9 1013.5,675.0 1010.6,669.6 C1007.8,664.2 1002.4,658.5 996.6,655.2 C990.8,651.9 982.8,649.8 975.9,649.8Z" fill="#000"/>
<path d="M937.2,696.6 C938.5,694.2 945.3,692.7 947.1,694.8 C948.9,696.9 949.3,706.8 948.0,709.2 C946.6,711.6 940.8,711.3 939.0,709.2 C937.2,707.1 935.8,699.0 937.2,696.6Z" fill="#C9A882"/><path d="M1009.2,696.6 C1010.5,694.2 1017.3,694.2 1019.1,695.7 C1020.9,697.2 1021.3,703.2 1020.0,705.6 C1018.6,708.0 1012.8,711.6 1011.0,710.1 C1009.2,708.6 1007.8,699.0 1009.2,696.6Z" fill="#C9A882"/>
<clipPath id="fc3"><path d="M945.8,684.0 C957.0,673.2 971.4,670.5 977.2,671.8 C991.2,674.1 1003.8,680.4 1008.3,691.2 C1010.1,705.6 1005.6,730.8 977.2,737.1 C948.0,730.8 944.4,705.6 945.8,684.0Z"/></clipPath><g clip-path="url(#fc3)"><rect x="917.2" y="400" width="60" height="450" fill="#DCC29D"/><rect x="977.2" y="400" width="60" height="450" fill="#EFD9B1"/></g>
<path d="M958,697.5 Q961.5,694.5 965,697.5 M989.5,697.5 Q993,694.5 996.5,697.5" fill="none" stroke="#2A1E14" stroke-width="1.2"/>
<path d="M968.8,720 Q972.5,717.5 976.8,719 Q981,717.5 984.8,720 Q976.8,725 968.8,720Z" fill="#C27B7E"/>

<path d="M1100.4,693.0 C1101.6,690.6 1106.1,689.1 1107.6,691.2 C1109.1,693.3 1110.6,703.2 1109.4,705.6 C1108.2,708.0 1101.9,707.7 1100.4,705.6 C1098.9,703.5 1099.2,695.4 1100.4,693.0Z" fill="#C9A882"/><path d="M1174.2,693.0 C1175.5,690.4 1181.5,690.3 1183.2,692.1 C1184.8,693.9 1185.4,701.2 1184.1,703.8 C1182.7,706.3 1176.7,709.2 1175.1,707.4 C1173.4,705.6 1172.8,695.5 1174.2,693.0Z" fill="#C9A882"/>
<path d="M1102.2,779.3 L1104.9,755.9 L1114.8,745.1 L1127.4,739.8 L1152.6,739.8 L1167.0,745.1 L1176.0,755.9 L1177.8,779.3Z" fill="#8A5958"/>
<path d="M1123.8,730.8 L1155.3,730.8 L1155.3,745.1 L1139.1,763.1 L1123.8,745.1Z" fill="#E8D3AA"/>
<path d="M1107.6,747.8 L1126.5,739.8 L1139.1,755.9 L1152.6,739.8 L1172.4,747.8 L1154.4,755.9 L1163.4,757.7 L1140.0,779.3 L1138.2,779.3 L1114.8,757.7 L1123.8,755.9Z" fill="#4A2D15"/>
<path d="M1124.7,738.0 L1139.1,755.9 L1154.4,738.0 L1154.4,730.8 L1124.7,730.8Z" fill="#E8D3AA"/>
<path d="M1154.4,640.8 C1155.9,638.2 1163.2,637.8 1167.0,638.1 C1170.7,638.4 1175.1,640.0 1176.9,642.6 C1178.7,645.1 1178.8,651.0 1177.8,653.4 C1176.7,655.8 1173.9,657.0 1170.6,657.0 C1167.3,657.0 1160.7,656.1 1158.0,653.4 C1155.3,650.7 1152.9,643.3 1154.4,640.8Z" fill="#A9A9A9"/>
<clipPath id="fc4"><path d="M1104.9,684.0 C1106.7,678.0 1110.9,674.4 1116.6,671.4 C1122.3,668.4 1131.3,665.7 1139.1,666.0 C1146.9,666.3 1157.4,669.6 1163.4,673.2 C1169.4,676.8 1173.3,681.9 1175.1,687.6 C1176.9,693.3 1175.5,701.1 1174.2,707.4 C1172.8,713.7 1172.8,721.0 1167.0,725.4 C1161.1,729.7 1148.1,733.5 1139.1,733.5 C1130.1,733.5 1118.5,729.7 1113.0,725.4 C1107.4,721.0 1107.1,714.3 1105.8,707.4 C1104.4,700.5 1103.1,690.0 1104.9,684.0Z"/></clipPath><g clip-path="url(#fc4)"><rect x="1079.1" y="400" width="60" height="450" fill="#DCC29D"/><rect x="1139.1" y="400" width="60" height="450" fill="#EFD9B1"/></g>
<path d="M1102.2,676.8 C1103.5,669.0 1106.4,657.7 1111.2,651.6 C1116.0,645.4 1123.8,641.8 1131.0,639.9 C1138.2,637.9 1147.5,637.9 1154.4,639.9 C1161.3,641.8 1167.9,645.7 1172.4,651.6 C1176.9,657.4 1180.2,667.2 1181.4,675.0 C1182.6,682.8 1181.4,693.0 1179.6,698.4 C1177.8,703.8 1172.7,708.9 1170.6,707.4 C1168.5,705.9 1170.6,696.3 1167.0,689.4 C1163.4,682.5 1154.4,667.2 1149.0,666.0 C1143.6,664.8 1137.6,678.0 1134.6,682.2 C1131.6,686.4 1132.3,691.2 1131.0,691.2 C1129.6,691.2 1129.2,682.8 1126.5,682.2 C1123.8,681.6 1117.0,683.7 1114.8,687.6 C1112.5,691.5 1111.5,699.6 1113.0,705.6 C1114.5,711.6 1124.1,722.7 1123.8,723.6 C1123.5,724.5 1114.6,715.2 1111.2,711.0 C1107.7,706.8 1104.6,704.1 1103.1,698.4 C1101.6,692.7 1100.8,684.6 1102.2,676.8Z" fill="#A9A9A9"/>
<path d="M1113.0,690.3 C1122.0,687.6 1136.4,689.4 1139.1,694.8 C1140.0,702.0 1129.2,705.6 1120.2,704.1 C1113.0,702.9 1111.2,696.6 1113.0,690.3Z" fill="none" stroke="#4A2A3C" stroke-width="1.5"/>
<path d="M1167.9,688.5 C1158.0,685.8 1144.5,688.5 1142.1,693.9 C1140.9,701.1 1152.6,704.7 1160.7,702.9 C1167.9,701.6 1169.7,695.7 1167.9,688.5Z" fill="none" stroke="#4A2A3C" stroke-width="1.5"/>
<path d="M1138.7,694.8 Q1140.5,693.0 1142.5,694.1" fill="none" stroke="#4A2A3C" stroke-width="1.3"/>
<ellipse cx="1122.0" cy="696.2" rx="2.2" ry="3" fill="#111"/><ellipse cx="1157.1" cy="696.2" rx="2.2" ry="3" fill="#111"/>
<path d="M1118.4,693.0 l-1.5,-1.5 M1120.2,692.1 l-0.5,-2 M1160.7,693.0 l1.5,-1.5 M1161.9,694.2 l2,-1" stroke="#111" stroke-width="0.8"/>



<path d="M1133.6,721 Q1136.5,719 1139,720.3 Q1141.5,719 1144.4,721 Q1139,725 1133.6,721Z" fill="#C27B7E"/>
</g>
</svg></body></html>
